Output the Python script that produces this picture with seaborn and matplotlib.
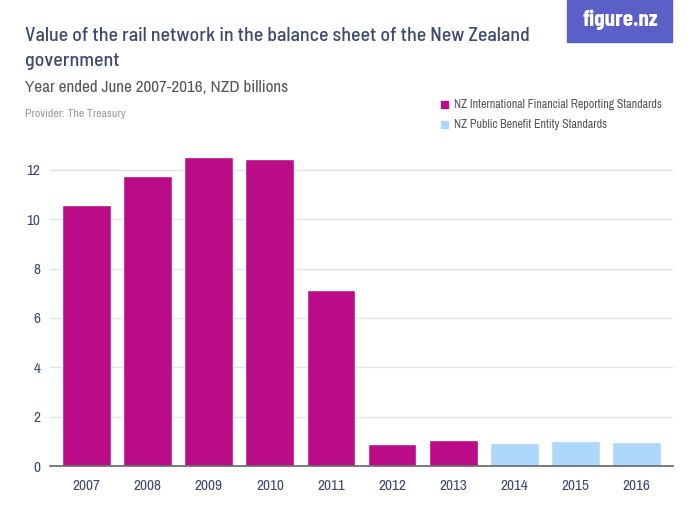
import matplotlib
matplotlib.use("Agg")
import matplotlib.pyplot as plt
import matplotlib.patches as mpatches
import seaborn as sns
import pandas as pd

# dados
years = ["2007", "2008", "2009", "2010", "2011", "2012", "2013", "2014", "2015", "2016"]
values = [10.58, 11.77, 12.53, 12.45, 7.12, 0.88, 1.05, 0.95, 1.0, 0.97]
standards = ["NZ International Financial Reporting Standards"] * 7 + ["NZ Public Benefit Entity Standards"] * 3
yticks = [0, 2, 4, 6, 8, 10, 12]

df = pd.DataFrame({"year": years, "value": values, "standard": standards})

sns.set_theme(style="white")
plt.rcParams["font.family"] = ["Archivo Narrow", "DejaVu Sans"]

text_col = "#3d4a6b"
palette = {"NZ International Financial Reporting Standards": "#b90c86",
           "NZ Public Benefit Entity Standards": "#aed8fb"}

fig = plt.figure(figsize=(7, 5.25), dpi=100)
ax = fig.add_axes([50 / 700, 1 - 466 / 525, 623 / 700, 320 / 525])

sns.barplot(data=df, x="year", y="value", hue="standard", palette=palette,
            dodge=False, width=0.8, saturation=1, legend=False, ax=ax)

ax.set_xlim(-0.6, 9.6)
ax.set_ylim(0, 12.97)
ax.set_yticks(yticks)
ax.set_xlabel("")
ax.set_ylabel("")
ax.grid(axis="y", color="#e3e3e3", linewidth=1)
ax.set_axisbelow(True)
for s in ["top", "right", "left"]:
    ax.spines[s].set_visible(False)
ax.spines["bottom"].set_color("#6b6b6b")
ax.tick_params(axis="x", length=5, width=1.2, color="#b0b0b0", labelsize=11, labelcolor=text_col, pad=4)
ax.tick_params(axis="y", length=0, labelsize=11, labelcolor=text_col, pad=7)

# títulos
title_font = ["Barlow Semi Condensed", "DejaVu Sans"]
fig.text(25 / 700, 1 - 36 / 525, "Value of the rail network in the balance sheet of the New Zealand",
         fontsize=14.3, color=text_col, va="center", fontweight=500, family=title_font)
fig.text(25 / 700, 1 - 61 / 525, "government", fontsize=14.3, color=text_col, va="center",
         fontweight=500, family=title_font)
fig.text(25 / 700, 1 - 88 / 525, "Year ended June 2007-2016, NZD billions", fontsize=12.3,
         color="#555555", va="center")
fig.text(25 / 700, 1 - 114 / 525, "Provider: The Treasury", fontsize=8.5, color="#999999", va="center")

# legenda
for i, (lab, col) in enumerate(palette.items()):
    yy = 1 - (104 + i * 20) / 525
    fig.patches.append(mpatches.Rectangle((441 / 700, yy - 3.5 / 525), 7 / 700, 7 / 525,
                                          transform=fig.transFigure, color=col, figure=fig))
    fig.text(454 / 700, yy, lab, fontsize=8.6, color="#555555", va="center")

# logo
fig.patches.append(mpatches.Rectangle((567 / 700, 1 - 42 / 525), 105 / 700, 42 / 525,
                                      transform=fig.transFigure, color="#5a60c6", figure=fig))
fig.text(620 / 700, 1 - 20 / 525, "figure.nz", fontsize=17, color="white", ha="center",
         va="center", fontweight="bold", family=["Barlow Condensed", "DejaVu Sans"])

plt.savefig("out.png", dpi=100)
